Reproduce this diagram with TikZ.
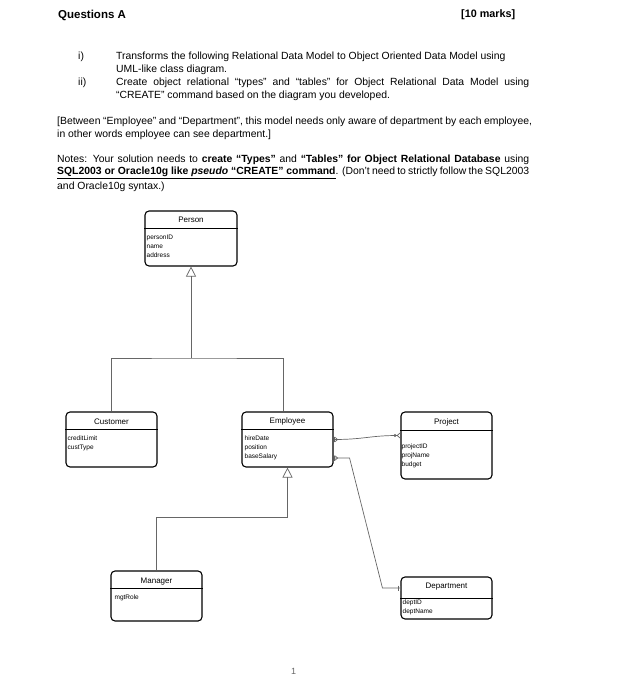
\documentclass[tikz,border=0pt]{standalone}
\usepackage{fontspec}
\setmainfont{Liberation Sans}
\usetikzlibrary{arrows.meta}

\tikzset{
	classbox/.style={draw, line width=1.1pt, rounded corners=4pt, inner sep=0pt, minimum width=91pt},
	classname/.style={inner sep=0pt, font=\fontsize{8}{9}\selectfont},
	attrlist/.style={anchor=north west, align=left, inner sep=0pt, font=\fontsize{6.5}{9}\selectfont},
	link/.style={draw=black!60, line width=0.7pt},
	txt/.style={anchor=west, inner sep=0pt, font=\fontsize{10.4}{12}\selectfont},
	isa/.style={-{Triangle[open, length=10pt, width=10pt]}},
}
\newcommand{\headline}[2]{\draw [line width=1.1pt] ([yshift=-#2pt]#1.north west) -- ([yshift=-#2pt]#1.north east);}

\begin{document}
\begin{tikzpicture}[x=1pt, y=-1pt]
	\useasboundingbox (0, 0) rectangle (616, 700);
	\node [txt, font=\fontsize{11.5}{13}\selectfont\bfseries] (title) at (58, 15) {Questions A};
	\node [txt, font=\fontsize{10.8}{13}\selectfont\bfseries] (marks) at (461, 15) {[10 marks]};
	\node [txt] (item1) at (78, 57) {i)};
	\node [txt] (item1a) at (116, 57) {Transforms the following Relational Data Model to Object Oriented Data Model using};
	\node [txt] (item1b) at (116, 70) {UML-like class diagram.};
	\node [txt] (item2) at (78, 82.5) {ii)};
	\node [txt] (item2a) at (116, 82.5) {\makebox[413pt][s]{Create object relational “types” and “tables” for Object Relational Data Model using}};
	\node [txt] (item2b) at (116, 96) {“CREATE” command based on the diagram you developed.};
	\node [txt] (between1) at (57, 122) {\makebox[475pt][s]{[Between “Employee” and “Department”, this model needs only aware of department by each employee,}};
	\node [txt] (between2) at (57, 135) {in other words employee can see department.]};
	\node [txt] (notes1) at (57, 160) {\makebox[472pt][s]{Notes: Your solution needs to \textbf{create “Types”} and \textbf{“Tables” for Object Relational Database} using}};
	\node [txt] (notes2) at (57, 173) {\makebox[472pt][s]{\textbf{\underline{SQL2003 or Oracle10g like \textit{pseudo} “CREATE” command}}. (Don’t need to strictly follow the SQL2003}};
	\node [txt] (notes3) at (57, 187) {and Oracle10g syntax.)};

	\node [classbox, minimum width=92pt, minimum height=55pt] (person) at (191, 238.5) {};
	\headline{person}{18}
	\node [classname] (personname) at ([yshift=-9pt]person.north) {Person};
	\node [attrlist] (personattr) at ([shift={(2pt, -24.5pt)}]person.north west) {personID\\name\\address};

	\node [classbox, minimum height=55pt] (customer) at (111.5, 439.5) {};
	\headline{customer}{18}
	\node [classname] (customername) at ([yshift=-10pt]customer.north) {Customer};
	\node [attrlist] (customerattr) at ([shift={(2pt, -24.5pt)}]customer.north west) {creditLimit\\custType};

	\node [classbox, minimum height=55pt] (employee) at (287.5, 439.5) {};
	\headline{employee}{18}
	\node [classname] (employeename) at ([yshift=-10pt]employee.north) {Employee};
	\node [attrlist] (employeeattr) at ([shift={(3pt, -24.5pt)}]employee.north west) {hireDate\\position\\baseSalary};

	\node [classbox, minimum height=67pt] (project) at (446.5, 445.5) {};
	\headline{project}{19}
	\node [classname] (projectname) at ([yshift=-11pt]project.north) {Project};
	\node [attrlist] (projectattr) at ([shift={(1pt, -32.5pt)}]project.north west) {projectID\\projName\\budget};

	\node [classbox, minimum height=50pt] (manager) at (156.5, 596) {};
	\headline{manager}{18}
	\node [classname] (managername) at ([yshift=-11pt]manager.north) {Manager};
	\node [attrlist] (managerattr) at ([shift={(4pt, -24.5pt)}]manager.north west) {mgtRole};

	\node [classbox, minimum height=42pt] (department) at (446.5, 598) {};
	\headline{department}{22}
	\node [classname] (departmentname) at ([yshift=-10pt]department.north) {Department};
	\node [attrlist] (departmentattr) at ([shift={(2pt, -23.5pt)}]department.north west) {deptID\\deptName};

	\coordinate (split) at (191, 358);
	\draw [link, isa] (split) -- (person.south);
	\draw [link] ([xshift=-0.5pt]customer.north) |- (split) -| ([xshift=-4.5pt]employee.north);
	\draw [link, isa] (manager.north) |- ([yshift=-50pt]employee.south) -- (employee.south);
	\draw [link, {Bar[width=5pt]Straight Barb[reversed, length=3pt, width=5pt]}-{Circle[open, length=3pt]Straight Barb[reversed, length=3pt, width=5pt]}] (employee.east) .. controls +(30, 0) and +(-30, 0) .. ([yshift=10pt]project.west);
	\draw [link, {Bar[width=5pt]Straight Barb[reversed, length=3pt, width=5pt]}-{Bar[width=5pt, sep=1.5pt]Bar[width=5pt]}] ([yshift=-18.5pt]employee.east) -- ++(16, 0) -- ([xshift=-18pt, yshift=10pt]department.west) -- ([yshift=10pt]department.west);

	\node [txt, text=black!60, font=\fontsize{9}{11}\selectfont] (pagenum) at (291, 671) {1};
\end{tikzpicture}
\end{document}
